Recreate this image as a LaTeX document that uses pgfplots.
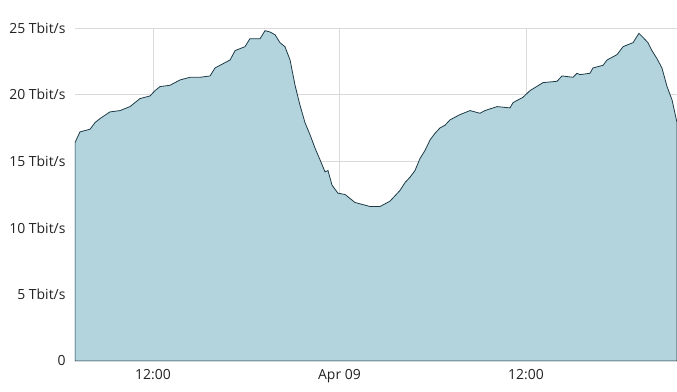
\documentclass[border=0pt]{standalone}
\usepackage{pgfplots}
\pgfplotsset{compat=1.18}
\usepackage{fontspec}
\setmainfont{Open Sans}
\definecolor{fillc}{HTML}{B3D4DC}
\definecolor{linec}{HTML}{1E3A46}
\definecolor{gridc}{HTML}{DADADA}
\definecolor{txt}{HTML}{222222}
\begin{document}
\begin{tikzpicture}
\begin{axis}[
  scale only axis, width=602bp, height=333bp,
  xmin=6.98, xmax=45.72, ymin=0, ymax=25,
  axis line style={draw=none},
  xtick={12,24,36}, xticklabels={12:00,Apr 09,12:00},
  ytick={0,5,10,15,20,25},
  yticklabels={0,5 Tbit/s,10 Tbit/s,15 Tbit/s,20 Tbit/s,25 Tbit/s},
  tick style={draw=none},
  xmajorgrids, ymajorgrids,
  grid style={gridc, line width=0.8pt},
  ticklabel style={font=\fontsize{14}{16}\selectfont, text=txt},
  yticklabel style={xshift=-6bp},
  xticklabel style={yshift=-5bp},
  clip=true,
]
\addplot[draw=linec, line width=0.8pt, fill=fillc] coordinates {
(6.98,16.4)(7.30,17.2)(7.95,17.4)(8.27,17.9)(8.59,18.2)(9.23,18.7)(9.88,18.8)
(10.52,19.1)(11.16,19.7)(11.81,19.9)(12.13,20.3)(12.45,20.6)(13.09,20.7)
(13.74,21.1)(14.38,21.3)(15.02,21.3)(15.67,21.4)(15.99,22.0)(16.31,22.2)
(16.96,22.6)(17.28,23.3)(17.92,23.6)(18.24,24.2)(18.89,24.2)(19.21,24.8)
(19.53,24.7)(19.85,24.5)(20.17,23.9)(20.49,23.6)(20.82,22.6)(21.14,20.7)
(21.46,19.2)(21.78,17.9)(22.10,17.0)(22.42,16.0)(22.75,15.1)(23.07,14.2)
(23.26,14.3)(23.52,13.2)(23.90,12.6)(24.36,12.5)(25.00,11.9)(25.64,11.7)
(25.96,11.6)(26.61,11.6)(27.25,12.0)(27.57,12.4)(27.89,12.8)(28.22,13.4)
(28.54,13.8)(28.86,14.3)(29.18,15.2)(29.50,15.8)(29.83,16.6)(30.15,17.1)
(30.47,17.5)(30.79,17.7)(31.11,18.1)(31.43,18.3)(31.76,18.5)(32.40,18.8)
(33.04,18.6)(33.36,18.8)(34.14,19.1)(34.97,19.0)(35.17,19.4)(35.81,19.8)
(36.26,20.3)(37.10,20.9)(38.00,21.0)(38.32,21.4)(39.03,21.3)(39.28,21.6)
(39.48,21.5)(40.12,21.6)(40.31,22.0)(40.96,22.2)(41.22,22.6)(41.86,23.0)
(42.25,23.6)(42.89,23.9)(43.27,24.6)(43.53,24.3)(43.85,23.9)(44.11,23.3)
(44.43,22.7)(44.75,22.0)(45.08,20.6)(45.40,19.6)(45.72,17.9)
} \closedcycle;
\draw[color=gridc!60!linec!40, line width=0.8pt] (rel axis cs:0,0) -- (rel axis cs:1,0);
\coordinate (bl) at (rel axis cs:0,0);
\coordinate (tr) at (rel axis cs:1,1);
\end{axis}
\pgfresetboundingbox
\path[use as bounding box] ([shift={(-75bp,-31bp)}]bl) rectangle ([shift={(0bp,28bp)}]tr);
\end{tikzpicture}
\end{document}
